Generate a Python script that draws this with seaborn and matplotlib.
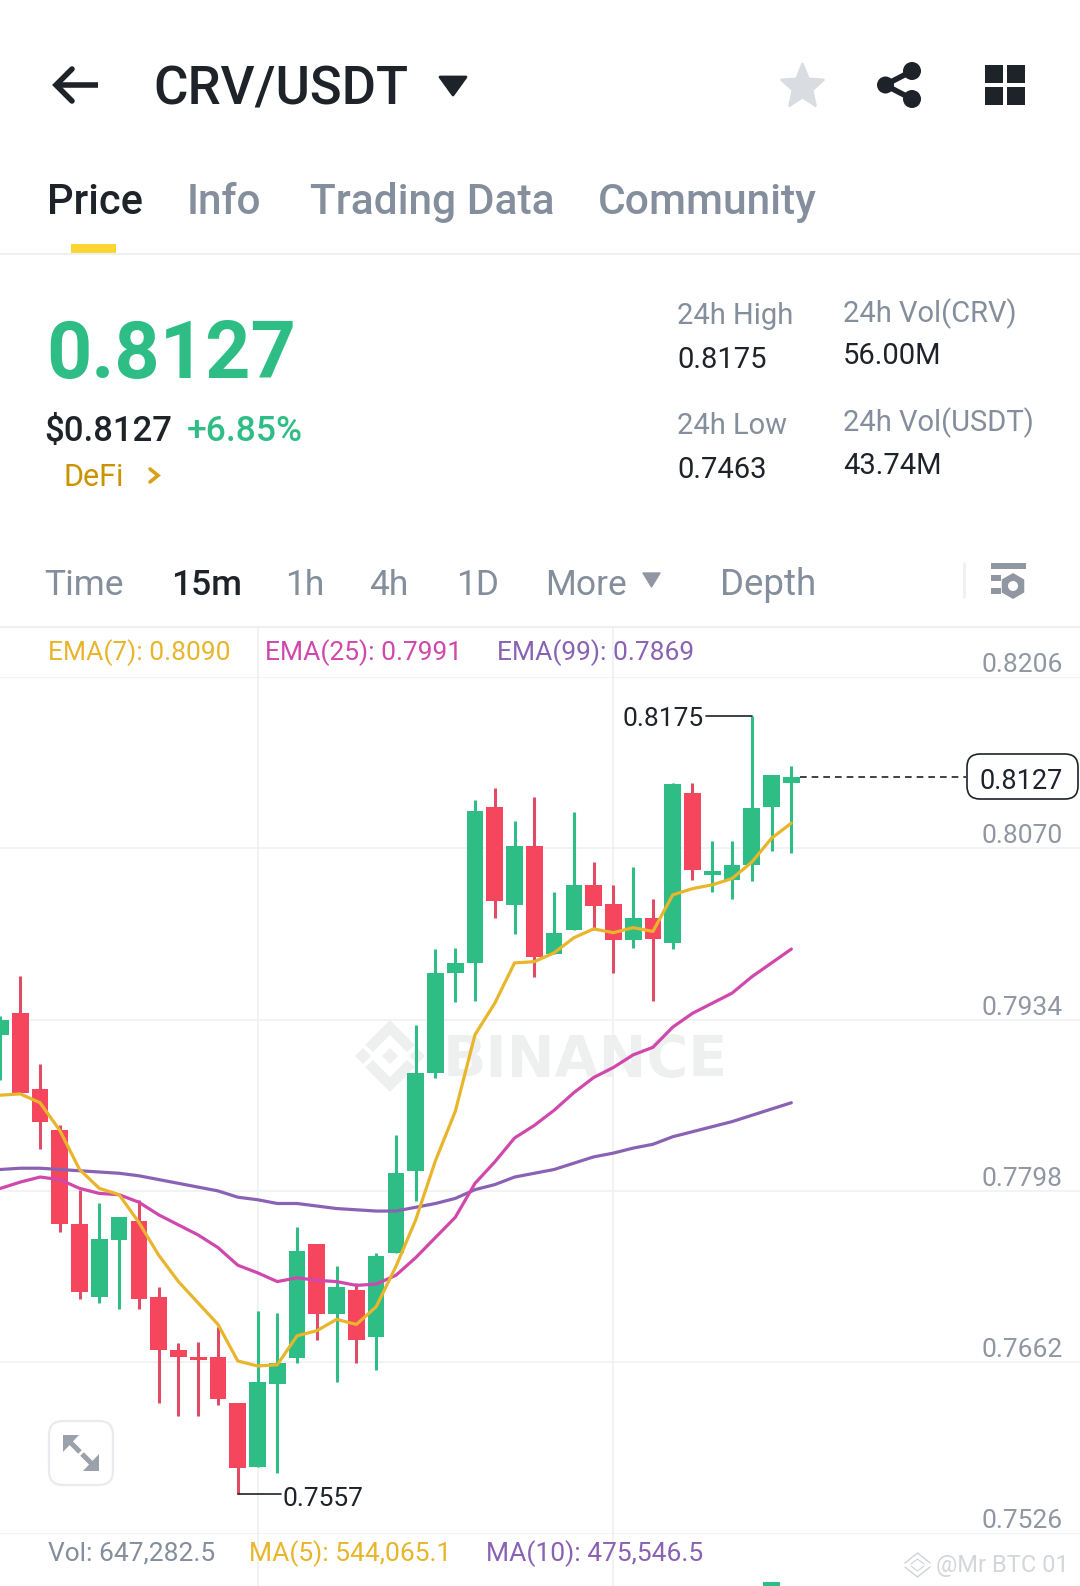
import numpy as np
import matplotlib
matplotlib.use("Agg")
import matplotlib.pyplot as plt
from matplotlib.patches import Polygon, Circle, Rectangle, FancyBboxPatch, RegularPolygon
import seaborn as sns

# ---------- data ----------
body_top = [.7934,.7939,.7879,.7846,.7772,.7760,.7777,.7774,.7714,.7672,.7666,.7666,.7630,.7646,.7661,.7750,.7756,.7722,.7719,.7746,.7812,
            .7892,.7971,.7979,.8100,.8103,.8072,.8072,.8003,.8041,.8041,.8026,.8015,.8015,.8121,.8114,.8052,.8057,.8102,.8128,.8127]
body_bot = [.7922,.7876,.7853,.7772,.7718,.7714,.7759,.7712,.7672,.7666,.7664,.7633,.7578,.7579,.7645,.7665,.7700,.7700,.7680,.7682,.7749,
            .7814,.7892,.7971,.7979,.8028,.8025,.7984,.7986,.8005,.8024,.7997,.7997,.7998,.7995,.8053,.8049,.8045,.8057,.8103,.8122]
highs = [.7937,.7969,.7899,.7850,.7799,.7788,.7777,.7791,.7722,.7677,.7678,.7690,.7630,.7703,.7701,.7769,.7756,.7738,.7725,.7749,.7842,
         .7930,.7990,.7991,.8108,.8118,.8092,.8111,.8035,.8099,.8059,.8041,.8055,.8030,.8122,.8122,.8076,.8076,.8175,.8128,.8135]
lows = [.7886,.7876,.7831,.7765,.7712,.7709,.7704,.7704,.7630,.7619,.7619,.7628,.7557,.7579,.7574,.7661,.7680,.7646,.7661,.7656,.7749,
        .7790,.7888,.7948,.7949,.8015,.8002,.7968,.7986,.8005,.8005,.7971,.7991,.7949,.7990,.8045,.8035,.8030,.8044,.8068,.8066]
is_up = [True,False,False,False,False,True,True,False,False,False,False,False,False,True,True,True,False,True,False,True,True,
         True,True,True,True,False,True,False,True,True,False,False,True,False,True,False,True,True,True,True,True]
ema7 = [.7874,.7875,.7868,.7846,.7815,.7800,.7795,.7773,.7747,.7726,.7709,.7692,.7663,.7659,.7660,.7683,.7687,.7696,.7692,.7706,.7738,
        .7775,.7822,.7861,.7922,.7947,.7979,.7980,.7987,.7999,.8006,.8003,.8007,.8004,.8033,.8038,.8041,.8046,.8059,.8078,.8090]
ema25 = [.7800,.7805,.7809,.7807,.7800,.7796,.7795,.7789,.7779,.7771,.7763,.7753,.7739,.7733,.7726,.7729,.7727,.7726,.7723,.7724,.7731,
         .7745,.7761,.7777,.7804,.7821,.7840,.7850,.7862,.7876,.7888,.7896,.7906,.7912,.7928,.7939,.7947,.7955,.7968,.7979,.7990]
ema99 = [.7815,.7816,.7816,.7815,.7814,.7813,.7812,.7810,.7807,.7804,.7801,.7798,.7793,.7791,.7788,.7788,.7786,.7784,.7783,.7782,.7782,
         .7785,.7788,.7792,.7799,.7803,.7809,.7812,.7815,.7820,.7825,.7828,.7832,.7835,.7841,.7845,.7849,.7853,.7858,.7863,.7868]
y_ticks = [0.8206, 0.8070, 0.7934, 0.7798, 0.7662, 0.7526]
time_ticks = [13, 31]
last_price = 0.8127
vol_index = [39]
vol_value = [900000.0]

GREEN, RED = "#2EBD85", "#F6465D"
WICK_RED = "#E04C65"
GOLD, PINK, PURPLE = "#E8B52C", "#D048AC", "#8A62B4"
DARK, GREY, GRID = "#1E2329", "#848E9C", "#EEF0F2"

sns.set_theme(style="white")
plt.rcParams["font.family"] = ["Roboto", "DejaVu Sans"]

W, H = 1080, 1586
fig = plt.figure(figsize=(W / 100, H / 100), dpi=100, facecolor="white")

# ---------- page layer in pixel coordinates ----------
ui = fig.add_axes([0, 0, 1, 1], zorder=0)
ui.set_xlim(0, W); ui.set_ylim(H, 0); ui.axis("off")


def T(x, y, s, size, color=GREY, weight="normal", ha="left", family=None, **kw):
    ui.text(x, y, s, fontsize=size, color=color, weight=weight, ha=ha, va="baseline",
            family=family or ["Roboto", "DejaVu Sans"], **kw)


for yy in (254, 627):
    ui.plot([0, W], [yy, yy], color=GRID, lw=1.5)
for t in time_ticks:
    px = 0.5 + 19.77 * t
    ui.plot([px, px], [627, H], color=GRID, lw=1.2)

# header
ui.plot([98, 58], [85, 85], color=DARK, lw=4, solid_capstyle="butt")
ui.plot([72, 56, 72], [69, 85, 101], color=DARK, lw=4, solid_joinstyle="miter")
T(153, 105, "CRV/USDT", 38, DARK, "medium")
ui.add_patch(Polygon([[440, 77], [466, 77], [453, 95]], closed=True, fc=DARK, ec=DARK, lw=2, joinstyle="round"))
ang = np.deg2rad(np.arange(5) * 72 - 90)
ang2 = ang + np.deg2rad(36)
pts = []
for a, b in zip(ang, ang2):
    pts += [[802.5 + 22 * np.cos(a), 87 + 23 * np.sin(a)], [802.5 + 10 * np.cos(b), 87 + 10 * np.sin(b)]]
ui.add_patch(Polygon(pts, closed=True, fc="#D9DCE1", ec="#D9DCE1", lw=2, joinstyle="round"))
ui.plot([912, 885, 912], [71, 85, 99], color=DARK, lw=4)
for cx, cy, r in ((885.5, 85, 8.5), (912, 71, 9), (912, 99, 9)):
    ui.add_patch(Circle((cx, cy), r, fc=DARK, ec="none"))
for x0 in (985, 1007):
    for y0 in (65, 87):
        ui.add_patch(Rectangle((x0, y0), 18, 18, fc=DARK, ec="none"))

# tabs
T(47, 214, "Price", 30, DARK, "medium")
T(187, 214, "Info", 30.5, GREY, "medium")
T(310, 214, "Trading Data", 30.6, GREY, "medium")
T(598, 214, "Community", 30.6, GREY, "medium")
ui.add_patch(Rectangle((71, 244), 45, 9, fc="#FCD535", ec="none"))

# price block
T(46, 378, "0.8127", 57, GREEN, "bold")
T(44, 441, "$0.8127", 25, DARK, "medium")
T(187, 441, "+6.85%", 25.5, GREEN, "medium")
T(63, 486, "DeFi", 22, "#C99400")
ui.plot([150, 158, 150], [469, 475.5, 482], color="#D6A21C", lw=2.6, solid_joinstyle="miter")

T(677, 324, "24h High", 21)
T(677, 368, "0.8175", 21, DARK)
T(677, 434, "24h Low", 21)
T(677, 478, "0.7463", 21, DARK)
T(843, 322, "24h Vol(CRV)", 21)
T(843, 364, "56.00M", 21, DARK)
T(843, 431, "24h Vol(USDT)", 21)
T(843, 474, "43.74M", 21, DARK)

# interval row
T(44, 595, "Time", 25.5)
T(171, 595, "15m", 25.5, DARK, "medium")
T(285, 595, "1h", 25.5)
T(369, 595, "4h", 25.5)
T(456, 595, "1D", 25.5)
T(545, 595, "More", 25.5)
ui.add_patch(Polygon([[643, 573], [660, 573], [651.5, 587]], closed=True, fc="#9097A3", ec="#9097A3", lw=1, joinstyle="round"))
T(720, 595, "Depth", 26.5)
ui.plot([964, 964], [563, 597], color=GRID, lw=2)
ICON = "#9097A3"
ui.add_patch(Rectangle((991, 563), 35, 5.5, fc=ICON, ec="none"))
ui.add_patch(Rectangle((991, 575), 10, 6, fc=ICON, ec="none"))
ui.add_patch(Rectangle((991, 588), 10, 6, fc=ICON, ec="none"))
ui.add_patch(RegularPolygon((1013, 586), 6, radius=13, fc=ICON, ec="none"))
ui.add_patch(Circle((1013, 586), 5, fc="white", ec="none"))

# indicator rows
T(48, 660, "EMA(7): 0.8090", 19, GOLD)
T(265, 660, "EMA(25): 0.7991", 19, PINK)
T(497, 660, "EMA(99): 0.7869", 19, PURPLE)
T(48, 1561, "Vol: 647,282.5", 19)
T(249, 1561, "MA(5): 544,065.1", 19, GOLD)
T(486, 1561, "MA(10): 475,546.5", 19, PURPLE)

# watermark behind the chart
WM = "#EEF0F0"
def diamond(cx, cy, r):
    ui.add_patch(Polygon([[cx - r, cy], [cx, cy - r], [cx + r, cy], [cx, cy + r]], closed=True, fc=WM, ec="none"))
lx, ly = 390, 1056
for cx, cy in ((lx - 27, ly), (lx + 27, ly), (lx, ly)):
    diamond(cx, cy, 8)
for s in (-1, 1):
    ui.add_patch(Polygon([[lx - 25, ly + s * 11], [lx, ly + s * 36], [lx + 25, ly + s * 11], [lx + 17, ly + s * 4],
                          [lx, ly + s * 21], [lx - 17, ly + s * 4]], closed=True, fc=WM, ec="none"))
T(443, 1077, "BINANCE", 41, WM, "bold", family=["DejaVu Sans"])

# ---------- candlestick axes, mapped by data scales ----------
ax = fig.add_axes([0, (H - 1533.5) / H, 1, (1533.5 - 677) / H], zorder=1)
ax.patch.set_visible(False)
idx = np.arange(len(body_top))
top, bot, hi, lo = map(np.array, (body_top, body_bot, highs, lows))
up = np.array(is_up)
ax.vlines(idx[up], lo[up], hi[up], color=GREEN, lw=2.2, zorder=2)
ax.vlines(idx[~up], lo[~up], hi[~up], color=WICK_RED, lw=2.2, zorder=2)
ax.bar(idx[up], top[up] - bot[up], bottom=bot[up], width=0.845, color=GREEN, lw=0, zorder=3)
ax.bar(idx[~up], top[~up] - bot[~up], bottom=bot[~up], width=0.845, color=RED, lw=0, zorder=3)
for vals, col in ((ema99, PURPLE), (ema25, PINK), (ema7, GOLD)):
    sns.lineplot(x=idx, y=vals, color=col, lw=2.3, ax=ax, errorbar=None, zorder=4)

ax.set_xlim(-0.025, 54.6)
ax.set_ylim(y_ticks[-1], y_ticks[0])
ax.set_xticks([])
ax.set_yticks(y_ticks)
ax.set_yticklabels([f"{v:.4f}" for v in y_ticks], fontsize=19, color="#9097A3")
ax.yaxis.tick_right()
ax.tick_params(axis="y", length=0, pad=-12.5)
for lab in ax.get_yticklabels():
    lab.set_ha("right"); lab.set_va("bottom")
ax.grid(axis="y", color=GRID, lw=1.1)
ax.set_axisbelow(True)
sns.despine(ax=ax, left=True, right=True, top=True, bottom=True)

# extreme markers and last price
ih, il = int(np.argmax(hi)), int(np.argmin(lo))
ax.plot([ih - 2.3, ih], [hi[ih], hi[ih]], color=DARK, lw=1.2, zorder=2)
ax.annotate(f"{hi[ih]:.4f}", (ih - 2.3, hi[ih]), xytext=(-2, -2.2), textcoords="offset points",
            ha="right", va="center", fontsize=19, color=DARK)
ax.plot([il, il + 2.2], [lo[il], lo[il]], color=DARK, lw=1.2, zorder=2)
ax.annotate(f"{lo[il]:.4f}", (il + 2.2, lo[il]), xytext=(1, -3.5), textcoords="offset points",
            ha="left", va="center", fontsize=19, color=DARK)
ax.plot([idx[-1] + 0.45, 48.85], [last_price, last_price], color=DARK, lw=1.2, ls=(0, (4, 3)), zorder=2)

# ---------- volume strip ----------
axv = fig.add_axes([0, 0, 1, (H - 1533.5) / H], zorder=1)
axv.patch.set_visible(False)
axv.bar(vol_index, vol_value, width=0.845, color=GREEN, lw=0)
axv.set_xlim(-0.025, 54.6)
axv.set_ylim(860000, 1385000)
axv.axis("off")

# ---------- overlay controls ----------
top_ui = fig.add_axes([0, 0, 1, 1], zorder=2)
top_ui.set_xlim(0, W); top_ui.set_ylim(H, 0); top_ui.axis("off"); top_ui.patch.set_visible(False)
top_ui.add_patch(FancyBboxPatch((967 + 13, 754 + 13), 111 - 26, 45 - 26, boxstyle="round,pad=13,rounding_size=13",
                                fc="white", ec=DARK, lw=1.2))
top_ui.text(1063, 789, f"{last_price:.4f}", fontsize=19.5, color=DARK, ha="right", va="baseline")
top_ui.add_patch(FancyBboxPatch((49 + 14, 1421 + 14), 64 - 28, 64 - 28, boxstyle="round,pad=14,rounding_size=14",
                                fc="white", ec="#E9EBEE", lw=1.6))
AR = "#9AA1AB"
top_ui.add_patch(Polygon([[63, 1435], [79, 1435], [63, 1452]], closed=True, fc=AR, ec="none"))
top_ui.add_patch(Polygon([[99, 1471], [83, 1471], [99, 1454]], closed=True, fc=AR, ec="none"))
top_ui.plot([69, 80], [1441, 1452], color=AR, lw=3.6, solid_capstyle="butt")
top_ui.plot([93, 82], [1465, 1454], color=AR, lw=3.6, solid_capstyle="butt")

# credit mark
top_ui.text(936, 1572, "@Mr BTC 01", fontsize=17, color="#D3D6DA", ha="left", va="baseline")
for s in (-1, 1):
    top_ui.plot([905, 917.5, 930], [1565 + s * 2, 1565 + s * 12, 1565 + s * 2], color="#CFD3D8", lw=1)
    top_ui.plot([911, 917.5, 924], [1565 + s * 1, 1565 + s * 6, 1565 + s * 1], color="#CFD3D8", lw=0.8)

fig.savefig("out.png", dpi=100, facecolor="white")
